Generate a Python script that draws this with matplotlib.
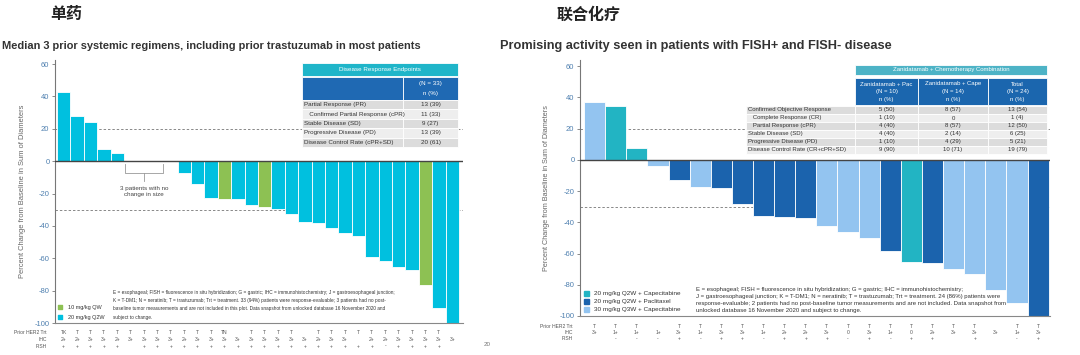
import matplotlib.pyplot as plt
from matplotlib.patches import Rectangle
from matplotlib import transforms

# ---- data: monotherapy (left) ----
left_vals = [42.5, 28, 24, 7.5, 5, 0, 0, 0, 0, -7.4, -14, -22.8, -23.6, -23.6, -27.4,
             -28.4, -29.4, -32.5, -37.9, -38.5, -41.2, -44.2, -46.1, -59.2, -61.7,
             -65.2, -67.5, -76.7, -90.9, -100]
left_dose = ['Q2W'] * 30
for i in (12, 15, 27):
    left_dose[i] = 'QW'
left_trt = ['TK', 'T', 'T', 'T', 'T', 'T', 'T', 'T', 'T', 'T', 'T', 'T', 'TN', '', 'T',
            'T', 'T', 'T', '', 'T', 'T', 'T', 'T', 'T', 'T', 'T', 'T', 'T', 'T', '']
left_ihc = ['2+', '2+', '3+', '3+', '2+', '3+', '3+', '3+', '3+', '2+', '3+', '3+', '3+',
            '3+', '3+', '3+', '3+', '3+', '3+', '2+', '3+', '3+', '', '2+', '2+', '3+',
            '3+', '3+', '3+', '3+']
left_fish = ['+', '+', '+', '+', '+', '', '+', '+', '+', '+', '+', '+', '+', '+', '+',
             '+', '+', '+', '+', '+', '+', '+', '+', '+', '-', '+', '+', '+', '+', '']

left_rows = ['Partial Response (PR)', '   Confirmed Partial Response (cPR)',
             'Stable Disease (SD)', 'Progressive Disease (PD)',
             'Disease Control Rate (cPR+SD)']
left_n = ['13 (39)', '11 (33)', '9 (27)', '13 (39)', '20 (61)']

# ---- data: chemo combination (right) ----
right_vals = [36.8, 34.6, 7.9, -3.6, -13.0, -17.1, -17.7, -28.4, -35.9, -36.8, -37.4,
              -42.1, -46.2, -50.2, -58.5, -65.6, -66.0, -69.9, -73.3, -83.3, -91.7, -100]
right_arm = ['30C', '20C', '20C', '30C', '20P', '30C', '20P', '20P', '20P', '20P', '20P',
             '30C', '30C', '30C', '20P', '20C', '20P', '30C', '30C', '30C', '30C', '20P']
right_trt = ['T', 'T', 'T', '', 'T', 'T', 'T', 'T', 'T', 'T', 'T', 'T', 'T', 'T', 'T',
             'T', 'T', 'T', 'T', '', 'T', 'T']
right_ihc = ['3+', '1+', '1+', '1+', '3+', '1+', '3+', '3+', '1+', '2+', '2+', '3+', '0',
             '3+', '1+', '0', '2+', '3+', '3+', '3+', '1+', '3+']
right_fish = ['', '-', '-', '-', '+', '-', '+', '+', '-', '+', '+', '+', '-', '+', '-',
              '+', '+', '', '+', '', '-', '+']

right_rows = ['Confirmed Objective Response', '   Complete Response (CR)',
              '   Partial Response (cPR)', 'Stable Disease (SD)',
              'Progressive Disease (PD)', 'Disease Control Rate (CR+cPR+SD)']
right_pac = ['5 (50)', '1 (10)', '4 (40)', '4 (40)', '1 (10)', '9 (90)']
right_cape = ['8 (57)', '0', '8 (57)', '2 (14)', '4 (29)', '10 (71)']
right_total = ['13 (54)', '1 (4)', '12 (50)', '6 (25)', '5 (21)', '19 (79)']

# colours
left_colors = {'QW': '#8dc153', 'Q2W': '#00c0df'}
right_colors = {'20C': '#22b4c3', '20P': '#1b63ad', '30C': '#93c4f0'}

plt.rcParams['font.family'] = ['Liberation Sans', 'DejaVu Sans']
plt.rcParams['axes.unicode_minus'] = False

W, H = 1080, 355
fig = plt.figure(figsize=(W / 100, H / 100), dpi=100)


def fx(x):
    return x / W


def fy(y):
    return 1 - y / H


def ftext(x, y, s, **kw):
    kw.setdefault('zorder', 7)
    fig.text(fx(x), fy(y), s, **kw)


def frect(x0, y0, x1, y1, color):
    fig.add_artist(Rectangle((fx(x0), fy(y1)), fx(x1) - fx(x0), (y1 - y0) / H,
                             transform=fig.transFigure, facecolor=color,
                             edgecolor='white', linewidth=0.6, zorder=5))


def style_axis(ax):
    for s in ('top', 'right'):
        ax.spines[s].set_visible(False)
    ax.spines['left'].set_color('#777777')
    ax.spines['left'].set_linewidth(0.8)
    ax.spines['bottom'].set_color('#888888')
    ax.spines['bottom'].set_linewidth(0.8)
    ax.set_xticks([])
    ax.set_yticks(range(-100, 61, 20))
    ax.tick_params(axis='y', labelsize=5.5, labelcolor='#4f80b0', color='#777777',
                   length=2.5, width=0.6, pad=1.5)
    ax.axhline(0, color='#444444', lw=1.0, zorder=3)
    ax.axhline(20, color='#888888', lw=0.7, ls=(0, (2.5, 2)), zorder=1)
    ax.axhline(-30, color='#888888', lw=0.7, ls=(0, (2.5, 2)), zorder=1)


# ---- titles ----
ftext(50, 14, '单药', fontsize=11.5, fontweight='bold', color='#222222',
      family=['Noto Sans CJK SC', 'DejaVu Sans'], va='center')
ftext(557, 15, '联合化疗', fontsize=11.5, fontweight='bold', color='#222222',
      family=['Noto Sans CJK SC', 'DejaVu Sans'], va='center')
ftext(2, 46, 'Median 3 prior systemic regimens, including prior trastuzumab in most patients',
      fontsize=7.9, fontweight='bold', color='#333333', va='center')
ftext(500, 46, 'Promising activity seen in patients with FISH+ and FISH- disease',
      fontsize=9.2, fontweight='bold', color='#333333', va='center')

# ---- left panel ----
axL = fig.add_axes([fx(55), fy(323), fx(463) - fx(55), (323 - 60) / H])
xs = range(len(left_vals))
axL.bar(xs, left_vals, width=1.0, color=[left_colors[d] for d in left_dose],
        edgecolor='white', linewidth=0.6, zorder=2)
axL.set_xlim(-0.65, 29.8)
axL.set_ylim(-100, 62.5)
style_axis(axL)
axL.set_ylabel('Percent Change from Baseline in Sum of Diameters', fontsize=5.4,
               color='#666666', labelpad=6)

# bracket for no-change patients
axL.plot([4.6, 4.6, 7.4, 7.4], [-1.5, -7.5, -7.5, -1.5], color='#999999', lw=0.6)
axL.plot([6, 6], [-7.5, -12], color='#999999', lw=0.6)
axL.text(6.0, -15.5, '3 patients with no\nchange in size', ha='center', va='top',
         fontsize=4.5, color='#444444', linespacing=1.3)

# legend
axL.scatter([-0.25], [-90.3], marker='s', s=12, color=left_colors['QW'], clip_on=False)
axL.scatter([-0.25], [-96.5], marker='s', s=12, color=left_colors['Q2W'], clip_on=False)
axL.text(0.3, -90.3, '10 mg/kg QW', fontsize=4, va='center', color='#333333')
axL.text(0.3, -96.5, '20 mg/kg Q2W', fontsize=4, va='center', color='#333333')

ftext(113, 290, 'E = esophageal; FISH = fluorescence in situ hybridization; G = gastric; '
      'IHC = immunohistochemistry; J = gastroesophageal junction;\n'
      'K = T-DM1; N = neratinib; T = trastuzumab; Trt = treatment. 33 (94%) patients were '
      'response-evaluable; 3 patients had no post-\n'
      'baseline tumor measurements and are not included in this plot. Data snapshot from '
      'unlocked database 16 November 2020 and\nsubject to change.',
      fontsize=3.45, color='#333333', va='top', linespacing=1.8)

# annotation rows below
trL = transforms.blended_transform_factory(axL.transData, fig.transFigure)
for row_y, lab, vals in ((333, 'Prior HER2 Trt', left_trt), (339.5, 'IHC', left_ihc),
                         (346, 'FISH', left_fish)):
    ftext(47, row_y, lab, fontsize=3.6, color='#555555', ha='right', va='center')
    for i, v in enumerate(vals):
        axL.text(i, fy(row_y), v, transform=trL, fontsize=3.6, color='#555555',
                 ha='center', va='center')
ftext(484, 344, '20', fontsize=4.5, color='#777777', va='center')

# left table
frect(302, 63, 458, 76, '#1fb5c9')
ftext(380, 69.5, 'Disease Response Endpoints', fontsize=4.5, color='white',
      ha='center', va='center')
frect(302, 77, 403, 100, '#1f69b3')
frect(403, 77, 458, 100, '#1f69b3')
ftext(430.5, 83.5, '(N = 33)', fontsize=4.5, color='white', ha='center', va='center')
ftext(430.5, 93, 'n (%)', fontsize=4.5, color='white', ha='center', va='center')
row_h = 9.4
for k, (lab, val) in enumerate(zip(left_rows, left_n)):
    y0 = 100 + k * row_h
    c = '#dcdcdc' if k % 2 == 0 else '#eeeeee'
    frect(302, y0, 403, y0 + row_h, c)
    frect(403, y0, 458, y0 + row_h, c)
    ftext(304, y0 + row_h / 2, lab, fontsize=4.5, color='#333333', va='center')
    ftext(430.5, y0 + row_h / 2, val, fontsize=4.5, color='#333333', ha='center',
          va='center')

# ---- right panel ----
axR = fig.add_axes([fx(580), fy(316), fx(1050) - fx(580), (316 - 60) / H])
xs = range(len(right_vals))
axR.bar(xs, right_vals, width=1.0, color=[right_colors[a] for a in right_arm],
        edgecolor='white', linewidth=0.6, zorder=2)
axR.set_xlim(-0.69, 21.56)
axR.set_ylim(-100, 64)
style_axis(axR)
axR.set_ylabel('Percent Change from Baseline in Sum of Diameters', fontsize=5.2,
               color='#666666', labelpad=7)

leg_items = [('20C', '20 mg/kg Q2W + Capecitabine'), ('20P', '20 mg/kg Q2W + Paclitaxel'),
             ('30C', '30 mg/kg Q3W + Capecitabine')]
for k, (key, lab) in enumerate(leg_items):
    yy = fy(293 + k * 8)
    fig.add_artist(Rectangle((fx(584), yy - 2.5 / H), 5 / W, 5 / H,
                             transform=fig.transFigure, color=right_colors[key]))
    fig.text(fx(594), yy, lab, fontsize=4.6, color='#333333', va='center')

ftext(696, 287, 'E = esophageal; FISH = fluorescence in situ hybridization; G = gastric; '
      'IHC = immunohistochemistry;\n'
      'J = gastroesophageal junction; K = T-DM1; N = neratinib; T = trastuzumab; '
      'Trt = treatment. 24 (86%) patients were\n'
      'response-evaluable; 2 patients had no post-baseline tumor measurements and are not '
      'included. Data snapshot from\nunlocked database 16 November 2020 and subject to change.',
      fontsize=4.3, color='#333333', va='top', linespacing=1.5)

trR = transforms.blended_transform_factory(axR.transData, fig.transFigure)
for row_y, lab, vals in ((326, 'Prior HER2 Trt', right_trt), (332.5, 'IHC', right_ihc),
                         (339, 'FISH', right_fish)):
    ftext(573, row_y, lab, fontsize=3.6, color='#555555', ha='right', va='center')
    for i, v in enumerate(vals):
        axR.text(i, fy(row_y), v, transform=trR, fontsize=3.6, color='#555555',
                 ha='center', va='center')

# right table
frect(855, 65, 1047, 75, '#4db3c6')
ftext(951, 70, 'Zanidatamab + Chemotherapy Combination', fontsize=4.3, color='white',
      ha='center', va='center')
heads = [('Zanidatamab + Pac', '(N = 10)', 855, 918), ('Zanidatamab + Cape', '(N = 14)', 918, 988),
         ('Total', '(N = 24)', 988, 1047)]
for t1, t2, x0, x1 in heads:
    frect(x0, 78, x1, 105, '#1b66ae')
    xm = (x0 + x1) / 2
    ftext(xm, 84, t1, fontsize=4.3, color='white', ha='center', va='center')
    ftext(xm, 91.5, t2, fontsize=4.3, color='white', ha='center', va='center')
    ftext(xm, 99, 'n (%)', fontsize=4.3, color='white', ha='center', va='center')
row_h = 8
for k in range(len(right_rows)):
    y0 = 106 + k * row_h
    c = '#dcdcdc' if k % 2 == 0 else '#eeeeee'
    frect(746, y0, 855, y0 + row_h, c)
    ftext(748, y0 + row_h / 2, right_rows[k], fontsize=4.3, color='#333333',
          va='center')
    for vals, x0, x1 in ((right_pac, 855, 918), (right_cape, 918, 988),
                         (right_total, 988, 1047)):
        frect(x0, y0, x1, y0 + row_h, c)
        ftext((x0 + x1) / 2, y0 + row_h / 2, vals[k], fontsize=4.3, color='#333333',
              ha='center', va='center')

fig.savefig('out.png', dpi=100)
